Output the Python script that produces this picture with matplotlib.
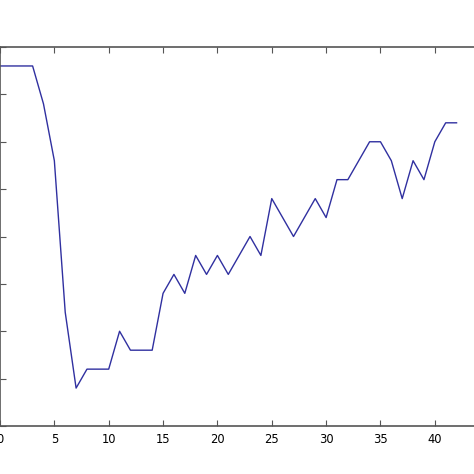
import matplotlib
matplotlib.use('Agg')
import matplotlib.pyplot as plt

# values (y labels are cropped out, so units are relative)
steps = list(range(0, 43))
values = [76, 76, 76, 76, 68, 56, 24, 8, 12, 12,
          12, 20, 16, 16, 16, 28, 32, 28, 36, 32,
          36, 32, 36, 40, 36, 48, 44, 40, 44, 48,
          44, 52, 52, 56, 60, 60, 56, 48, 56, 52,
          60, 64, 64]
x_ticks = [0, 5, 10, 15, 20, 25, 30, 35, 40]
y_ticks = [0, 10, 20, 30, 40, 50, 60, 70, 80]

fig = plt.figure(figsize=(4.74, 4.74), dpi=100)
ax = fig.add_axes([0.0, 0.1013, 1.032, 0.7995])

ax.plot(steps, values, color="#3030a0", linewidth=1.0)

ax.set_xlim(0, 45)
ax.set_ylim(0, 80)
ax.set_xticks(x_ticks)
ax.set_yticks(y_ticks)

for s in ax.spines.values():
    s.set_color("#555555")
    s.set_linewidth(1.2)

ax.tick_params(direction="in", top=True, right=True, length=4, width=0.8,
               color="#555555", labelsize=8.3, pad=5)

plt.savefig("out.png", dpi=100)
